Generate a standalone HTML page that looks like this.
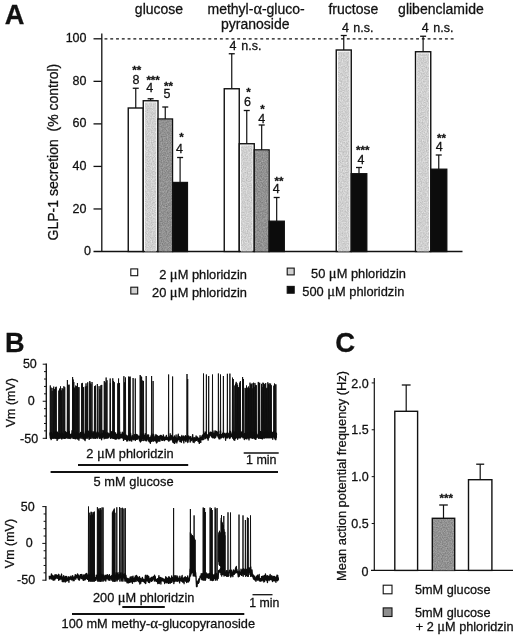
<!DOCTYPE html>
<html><head><meta charset="utf-8"><title>Figure</title>
<style>html,body{margin:0;padding:0;background:#fff}svg{display:block}text{font-family:'Liberation Sans', Arial, sans-serif;fill:#111;stroke:#111;stroke-width:0.28px}</style>
</head><body>
<svg width="520" height="636" viewBox="0 0 520 636">
<defs>
<filter id="nl" x="0" y="0" width="100%" height="100%" color-interpolation-filters="sRGB"><feTurbulence type="fractalNoise" baseFrequency="0.8" numOctaves="2" seed="4"/><feColorMatrix type="matrix" values="0.26 0 0 0 0.685  0.26 0 0 0 0.685  0.26 0 0 0 0.685  0 0 0 0 1"/><feComposite in2="SourceGraphic" operator="in"/></filter>
<filter id="nm" x="0" y="0" width="100%" height="100%" color-interpolation-filters="sRGB"><feTurbulence type="fractalNoise" baseFrequency="0.8" numOctaves="2" seed="9"/><feColorMatrix type="matrix" values="0.3 0 0 0 0.42  0.3 0 0 0 0.42  0.3 0 0 0 0.42  0 0 0 0 1"/><feComposite in2="SourceGraphic" operator="in"/></filter>
</defs>
<rect width="520" height="636" fill="#fff"/>
<text x="4.80" y="23.80" font-size="27.2" text-anchor="start" font-weight="bold" >A</text>
<text x="159.00" y="13.90" font-size="14" text-anchor="middle" font-weight="normal" >glucose</text>
<text x="256.10" y="13.70" font-size="14" text-anchor="middle" font-weight="normal" >methyl-<tspan font-family="'Liberation Serif', serif" font-size="116%">α</tspan>-gluco-</text>
<text x="255.30" y="29.40" font-size="14" text-anchor="middle" font-weight="normal" >pyranoside</text>
<text x="353.40" y="14.30" font-size="14" text-anchor="middle" font-weight="normal" >fructose</text>
<text x="440.90" y="14.30" font-size="14" text-anchor="middle" font-weight="normal" >glibenclamide</text>
<line x1="101.80" y1="33.50" x2="101.80" y2="252.00" stroke="#111" stroke-width="1.3" />
<line x1="93.50" y1="251.50" x2="462.50" y2="251.50" stroke="#111" stroke-width="1.3" />
<line x1="93.50" y1="208.96" x2="101.80" y2="208.96" stroke="#111" stroke-width="1.3" />
<text x="86.50" y="212.56" font-size="12.5" text-anchor="end" font-weight="normal" >20</text>
<line x1="93.50" y1="166.42" x2="101.80" y2="166.42" stroke="#111" stroke-width="1.3" />
<text x="86.50" y="170.02" font-size="12.5" text-anchor="end" font-weight="normal" >40</text>
<line x1="93.50" y1="123.88" x2="101.80" y2="123.88" stroke="#111" stroke-width="1.3" />
<text x="86.50" y="127.48" font-size="12.5" text-anchor="end" font-weight="normal" >60</text>
<line x1="93.50" y1="81.34" x2="101.80" y2="81.34" stroke="#111" stroke-width="1.3" />
<text x="86.50" y="84.94" font-size="12.5" text-anchor="end" font-weight="normal" >80</text>
<line x1="93.50" y1="38.80" x2="101.80" y2="38.80" stroke="#111" stroke-width="1.3" />
<text x="86.50" y="42.40" font-size="12.5" text-anchor="end" font-weight="normal" >100</text>
<text x="91.00" y="255.30" font-size="12.5" text-anchor="end" font-weight="normal" >0</text>
<line x1="104.50" y1="38.80" x2="456.00" y2="38.80" stroke="#111" stroke-width="1.3" stroke-dasharray="2.9 2.87"/>
<text transform="translate(57.6,240.4) rotate(-90)" font-size="14" xml:space="preserve">GLP-1 secretion  (% control)</text>
<line x1="135.75" y1="88.25" x2="135.75" y2="108.00" stroke="#111" stroke-width="1.2" />
<line x1="132.75" y1="88.25" x2="138.75" y2="88.25" stroke="#111" stroke-width="1.3" />
<rect x="128.25" y="108.00" width="15.00" height="143.50" fill="#ffffff" stroke="#111" stroke-width="1.4"/>
<line x1="150.62" y1="98.75" x2="150.62" y2="100.75" stroke="#111" stroke-width="1.2" />
<line x1="147.62" y1="98.75" x2="153.62" y2="98.75" stroke="#111" stroke-width="1.3" />
<rect x="143.25" y="100.75" width="14.75" height="150.75" fill="#fff" stroke="#111" stroke-width="1.4"/>
<rect x="144.95" y="102.45" width="11.35" height="149.05" fill="#d0d0d0" filter="url(#nl)"/>
<line x1="165.25" y1="107.00" x2="165.25" y2="119.00" stroke="#111" stroke-width="1.2" />
<line x1="162.25" y1="107.00" x2="168.25" y2="107.00" stroke="#111" stroke-width="1.3" />
<rect x="158.00" y="119.00" width="14.50" height="132.50" fill="#8e8e8e" stroke="#111" stroke-width="1.4"/>
<rect x="158.70" y="119.70" width="13.10" height="131.80" fill="#8e8e8e" filter="url(#nm)"/>
<line x1="180.10" y1="157.50" x2="180.10" y2="182.50" stroke="#111" stroke-width="1.2" />
<line x1="177.10" y1="157.50" x2="183.10" y2="157.50" stroke="#111" stroke-width="1.3" />
<rect x="172.80" y="182.50" width="14.60" height="69.00" fill="#0c0c0c" stroke="#111" stroke-width="1.4"/>
<line x1="231.75" y1="53.75" x2="231.75" y2="88.75" stroke="#111" stroke-width="1.2" />
<line x1="228.75" y1="53.75" x2="234.75" y2="53.75" stroke="#111" stroke-width="1.3" />
<rect x="224.25" y="88.75" width="15.00" height="162.75" fill="#ffffff" stroke="#111" stroke-width="1.4"/>
<line x1="246.75" y1="110.50" x2="246.75" y2="143.75" stroke="#111" stroke-width="1.2" />
<line x1="243.75" y1="110.50" x2="249.75" y2="110.50" stroke="#111" stroke-width="1.3" />
<rect x="239.25" y="143.75" width="15.00" height="107.75" fill="#fff" stroke="#111" stroke-width="1.4"/>
<rect x="240.95" y="145.45" width="11.60" height="106.05" fill="#d0d0d0" filter="url(#nl)"/>
<line x1="261.68" y1="125.00" x2="261.68" y2="149.90" stroke="#111" stroke-width="1.2" />
<line x1="258.68" y1="125.00" x2="264.68" y2="125.00" stroke="#111" stroke-width="1.3" />
<rect x="254.25" y="149.90" width="14.85" height="101.60" fill="#8e8e8e" stroke="#111" stroke-width="1.4"/>
<rect x="254.95" y="150.60" width="13.45" height="100.90" fill="#8e8e8e" filter="url(#nm)"/>
<line x1="276.68" y1="197.50" x2="276.68" y2="221.25" stroke="#111" stroke-width="1.2" />
<line x1="273.68" y1="197.50" x2="279.68" y2="197.50" stroke="#111" stroke-width="1.3" />
<rect x="269.10" y="221.25" width="15.15" height="30.25" fill="#0c0c0c" stroke="#111" stroke-width="1.4"/>
<line x1="343.75" y1="35.50" x2="343.75" y2="50.00" stroke="#111" stroke-width="1.2" />
<line x1="340.75" y1="35.50" x2="346.75" y2="35.50" stroke="#111" stroke-width="1.3" />
<rect x="336.25" y="50.00" width="15.00" height="201.50" fill="#fff" stroke="#111" stroke-width="1.4"/>
<rect x="337.95" y="51.70" width="11.60" height="199.80" fill="#d0d0d0" filter="url(#nl)"/>
<line x1="359.00" y1="167.50" x2="359.00" y2="173.75" stroke="#111" stroke-width="1.2" />
<line x1="356.00" y1="167.50" x2="362.00" y2="167.50" stroke="#111" stroke-width="1.3" />
<rect x="351.25" y="173.75" width="15.50" height="77.75" fill="#0c0c0c" stroke="#111" stroke-width="1.4"/>
<line x1="423.12" y1="36.25" x2="423.12" y2="51.75" stroke="#111" stroke-width="1.2" />
<line x1="420.12" y1="36.25" x2="426.12" y2="36.25" stroke="#111" stroke-width="1.3" />
<rect x="415.50" y="51.75" width="15.25" height="199.75" fill="#fff" stroke="#111" stroke-width="1.4"/>
<rect x="417.20" y="53.45" width="11.85" height="198.05" fill="#d0d0d0" filter="url(#nl)"/>
<line x1="438.75" y1="155.00" x2="438.75" y2="169.25" stroke="#111" stroke-width="1.2" />
<line x1="435.75" y1="155.00" x2="441.75" y2="155.00" stroke="#111" stroke-width="1.3" />
<rect x="430.75" y="169.25" width="16.00" height="82.25" fill="#0c0c0c" stroke="#111" stroke-width="1.4"/>
<text x="135.90" y="83.80" font-size="12.5" text-anchor="middle" font-weight="normal" >8</text>
<text x="136.70" y="74.10" font-size="11.5" text-anchor="middle" font-weight="bold" >**</text>
<text x="149.80" y="91.90" font-size="12.5" text-anchor="middle" font-weight="normal" >4</text>
<text x="153.10" y="83.80" font-size="11.5" text-anchor="middle" font-weight="bold" >***</text>
<text x="166.90" y="97.80" font-size="12.5" text-anchor="middle" font-weight="normal" >5</text>
<text x="168.50" y="89.80" font-size="11.5" text-anchor="middle" font-weight="bold" >**</text>
<text x="179.50" y="153.00" font-size="12.5" text-anchor="middle" font-weight="normal" >4</text>
<text x="181.50" y="140.50" font-size="11.5" text-anchor="middle" font-weight="bold" >*</text>
<text x="229.50" y="50.40" font-size="12.5" text-anchor="start" font-weight="normal" word-spacing="1.4">4 n.s.</text>
<text x="247.50" y="105.80" font-size="12.5" text-anchor="middle" font-weight="normal" >6</text>
<text x="248.40" y="95.60" font-size="11.5" text-anchor="middle" font-weight="bold" >*</text>
<text x="261.75" y="122.50" font-size="12.5" text-anchor="middle" font-weight="normal" >4</text>
<text x="262.60" y="112.50" font-size="11.5" text-anchor="middle" font-weight="bold" >*</text>
<text x="276.20" y="193.40" font-size="12.5" text-anchor="middle" font-weight="normal" >4</text>
<text x="278.90" y="184.50" font-size="11.5" text-anchor="middle" font-weight="bold" >**</text>
<text x="341.90" y="31.50" font-size="12.5" text-anchor="start" font-weight="normal" word-spacing="1.0">4 n.s.</text>
<text x="360.90" y="163.70" font-size="12.5" text-anchor="middle" font-weight="normal" >4</text>
<text x="362.80" y="154.00" font-size="11.5" text-anchor="middle" font-weight="bold" >***</text>
<text x="421.80" y="31.50" font-size="12.5" text-anchor="start" font-weight="normal" word-spacing="1.0">4 n.s.</text>
<text x="439.20" y="150.60" font-size="12.5" text-anchor="middle" font-weight="normal" >4</text>
<text x="441.50" y="141.70" font-size="11.5" text-anchor="middle" font-weight="bold" >**</text>
<rect x="130.80" y="268.90" width="6.9" height="6.8" fill="#ffffff" stroke="#111" stroke-width="1.1"/>
<rect x="130.80" y="287.20" width="6.9" height="6.8" fill="#d0d0d0" stroke="#111" stroke-width="1.1"/>
<rect x="287.20" y="268.10" width="7.0" height="6.8" fill="#d0d0d0" stroke="#111" stroke-width="1.1"/>
<rect x="287.20" y="286.40" width="7.0" height="6.8" fill="#0c0c0c" stroke="#111" stroke-width="1.1"/>
<text x="246.90" y="278.70" font-size="12.85" text-anchor="end" font-weight="normal" >2 <tspan font-family="'Liberation Serif', serif" font-size="14.5">μ</tspan>M phloridzin</text>
<text x="246.90" y="297.10" font-size="12.85" text-anchor="end" font-weight="normal" >20 <tspan font-family="'Liberation Serif', serif" font-size="14.5">μ</tspan>M phloridzin</text>
<text x="405.90" y="277.80" font-size="12.85" text-anchor="end" font-weight="normal" >50 <tspan font-family="'Liberation Serif', serif" font-size="14.5">μ</tspan>M phloridzin</text>
<text x="404.30" y="296.30" font-size="12.85" text-anchor="end" font-weight="normal" >500 <tspan font-family="'Liberation Serif', serif" font-size="14.5">μ</tspan>M phloridzin</text>
<text x="5.00" y="352.40" font-size="27.1" text-anchor="start" font-weight="bold" >B</text>
<line x1="46.30" y1="363.60" x2="46.30" y2="438.90" stroke="#111" stroke-width="1.35" />
<line x1="42.70" y1="364.20" x2="46.30" y2="364.20" stroke="#111" stroke-width="1.0" />
<line x1="44.00" y1="371.61" x2="46.30" y2="371.61" stroke="#111" stroke-width="1.0" />
<line x1="44.00" y1="379.02" x2="46.30" y2="379.02" stroke="#111" stroke-width="1.0" />
<line x1="44.00" y1="386.43" x2="46.30" y2="386.43" stroke="#111" stroke-width="1.0" />
<line x1="44.00" y1="393.84" x2="46.30" y2="393.84" stroke="#111" stroke-width="1.0" />
<line x1="42.70" y1="401.25" x2="46.30" y2="401.25" stroke="#111" stroke-width="1.0" />
<line x1="44.00" y1="408.66" x2="46.30" y2="408.66" stroke="#111" stroke-width="1.0" />
<line x1="44.00" y1="416.07" x2="46.30" y2="416.07" stroke="#111" stroke-width="1.0" />
<line x1="44.00" y1="423.48" x2="46.30" y2="423.48" stroke="#111" stroke-width="1.0" />
<line x1="44.00" y1="430.89" x2="46.30" y2="430.89" stroke="#111" stroke-width="1.0" />
<line x1="42.70" y1="438.30" x2="46.30" y2="438.30" stroke="#111" stroke-width="1.0" />
<text x="36.80" y="368.10" font-size="12.5" text-anchor="end" font-weight="normal" >50</text>
<text x="34.70" y="404.95" font-size="12.5" text-anchor="end" font-weight="normal" >0</text>
<text x="38.20" y="442.50" font-size="12.5" text-anchor="end" font-weight="normal" >-50</text>
<text transform="translate(15.2,427.30) rotate(-90)" font-size="12.5">Vm (mV)</text>
<line x1="45.90" y1="506.00" x2="45.90" y2="580.80" stroke="#111" stroke-width="1.35" />
<line x1="42.30" y1="506.60" x2="45.90" y2="506.60" stroke="#111" stroke-width="1.0" />
<line x1="43.60" y1="513.96" x2="45.90" y2="513.96" stroke="#111" stroke-width="1.0" />
<line x1="43.60" y1="521.32" x2="45.90" y2="521.32" stroke="#111" stroke-width="1.0" />
<line x1="43.60" y1="528.68" x2="45.90" y2="528.68" stroke="#111" stroke-width="1.0" />
<line x1="43.60" y1="536.04" x2="45.90" y2="536.04" stroke="#111" stroke-width="1.0" />
<line x1="42.30" y1="543.40" x2="45.90" y2="543.40" stroke="#111" stroke-width="1.0" />
<line x1="43.60" y1="550.76" x2="45.90" y2="550.76" stroke="#111" stroke-width="1.0" />
<line x1="43.60" y1="558.12" x2="45.90" y2="558.12" stroke="#111" stroke-width="1.0" />
<line x1="43.60" y1="565.48" x2="45.90" y2="565.48" stroke="#111" stroke-width="1.0" />
<line x1="43.60" y1="572.84" x2="45.90" y2="572.84" stroke="#111" stroke-width="1.0" />
<line x1="42.30" y1="580.20" x2="45.90" y2="580.20" stroke="#111" stroke-width="1.0" />
<text x="34.70" y="510.50" font-size="12.5" text-anchor="end" font-weight="normal" >50</text>
<text x="32.70" y="547.10" font-size="12.5" text-anchor="end" font-weight="normal" >0</text>
<text x="35.20" y="584.40" font-size="12.5" text-anchor="end" font-weight="normal" >-50</text>
<text transform="translate(14.3,568.20) rotate(-90)" font-size="12.5">Vm (mV)</text>
<path d="M50.10,432.50 L50.28,437.26 L50.46,438.18 L50.64,437.95 L50.82,433.98 L51.00,436.86 L51.18,439.60 L51.36,432.76 L51.54,436.88 L51.72,438.16 L51.90,434.77 L52.08,437.53 L52.26,433.91 L52.44,434.29 L52.62,434.26 L52.80,436.30 L52.98,435.91 L53.16,437.95 L53.34,434.14 L53.52,435.80 L53.70,437.68 L53.88,436.70 L54.06,432.54 L54.24,436.41 L54.42,434.09 L54.60,436.00 L54.78,436.03 L54.96,437.73 L55.14,435.30 L55.32,431.31 L55.50,432.52 L55.68,436.93 L55.86,435.15 L56.04,438.14 L56.22,436.33 L56.40,434.08 L56.58,438.14 L56.76,434.36 L56.94,431.75 L57.12,440.39 L57.30,432.47 L57.48,437.78 L57.66,438.38 L57.84,436.73 L58.02,433.31 L58.20,438.80 L58.38,433.69 L58.56,433.86 L58.74,435.74 L58.92,438.04 L59.10,437.03 L59.28,437.81 L59.46,434.86 L59.64,435.29 L59.82,433.39 L60.00,435.09 L60.18,436.67 L60.36,434.99 L60.54,436.81 L60.72,434.76 L60.90,434.53 L61.08,435.71 L61.26,435.09 L61.44,436.52 L61.62,435.96 L61.80,439.03 L61.98,434.97 L62.16,434.97 L62.34,433.29 L62.52,435.59 L62.70,436.71 L62.88,433.72 L63.06,435.33 L63.24,437.07 L63.42,435.36 L63.60,434.65 L63.78,437.69 L63.96,436.06 L64.14,436.85 L64.32,438.39 L64.50,438.40 L64.68,435.09 L64.86,434.62 L65.04,436.36 L65.22,435.57 L65.40,431.74 L65.58,438.16 L65.76,435.57 L65.94,437.11 L66.12,433.06 L66.30,437.92 L66.48,434.01 L66.66,434.98 L66.84,432.32 L67.02,434.75 L67.20,434.62 L67.38,434.67 L67.56,435.83 L67.74,435.11 L67.92,437.07 L68.10,433.84 L68.28,432.80 L68.46,434.51 L68.64,435.96 L68.82,437.35 L69.00,436.40 L69.18,431.38 L69.36,435.92 L69.54,438.09 L69.72,435.41 L69.90,434.14 L70.08,435.90 L70.26,434.35 L70.44,436.79 L70.62,435.50 L70.80,438.47 L70.98,436.46 L71.16,434.18 L71.34,436.82 L71.52,437.19 L71.70,434.03 L71.88,434.27 L72.06,430.75 L72.24,437.10 L72.42,434.19 L72.60,431.00 L72.78,431.84 L72.96,434.83 L73.14,436.95 L73.32,435.27 L73.50,436.47 L73.68,433.38 L73.86,432.87 L74.04,437.56 L74.22,436.91 L74.40,435.43 L74.58,438.02 L74.76,433.37 L74.94,434.24 L75.12,437.29 L75.30,438.87 L75.48,435.04 L75.66,438.34 L75.84,433.93 L76.02,435.94 L76.20,434.85 L76.38,432.02 L76.56,436.21 L76.74,437.65 L76.92,435.64 L77.10,435.83 L77.28,438.98 L77.46,433.54 L77.64,433.03 L77.82,435.02 L78.00,433.58 L78.18,438.80 L78.36,436.81 L78.54,434.23 L78.72,434.72 L78.90,440.15 L79.08,434.18 L79.26,433.97 L79.44,436.00 L79.62,437.16 L79.80,436.30 L79.98,433.87 L80.16,433.43 L80.34,437.10 L80.52,435.76 L80.70,432.39 L80.88,438.20 L81.06,437.58 L81.24,435.73 L81.42,435.59 L81.60,436.37 L81.78,434.13 L81.96,432.54 L82.14,436.02 L82.32,432.46 L82.50,436.11 L82.68,432.32 L82.86,435.23 L83.04,435.09 L83.22,438.97 L83.40,433.05 L83.58,432.90 L83.76,434.78 L83.94,433.81 L84.12,435.15 L84.30,437.09 L84.48,437.80 L84.66,439.57 L84.84,434.73 L85.02,440.56 L85.20,439.84 L85.38,435.35 L85.56,431.39 L85.74,435.62 L85.92,435.93 L86.10,431.14 L86.28,435.68 L86.46,435.09 L86.64,433.84 L86.82,436.66 L87.00,437.13 L87.18,434.24 L87.36,436.00 L87.54,434.23 L87.72,433.92 L87.90,435.65 L88.08,436.45 L88.26,434.30 L88.44,431.12 L88.62,436.69 L88.80,432.34 L88.98,435.87 L89.16,439.35 L89.34,435.64 L89.52,433.41 L89.70,432.79 L89.88,438.24 L90.06,435.62 L90.24,436.59 L90.42,437.53 L90.60,435.34 L90.78,434.83 L90.96,433.34 L91.14,430.83 L91.32,432.34 L91.50,435.21 L91.68,434.97 L91.86,436.27 L92.04,434.99 L92.22,435.43 L92.40,436.91 L92.58,433.14 L92.76,434.21 L92.94,431.58 L93.12,437.02 L93.30,435.21 L93.48,436.07 L93.66,438.28 L93.84,436.91 L94.02,434.52 L94.20,436.13 L94.38,431.78 L94.56,435.57 L94.74,435.19 L94.92,431.90 L95.10,438.08 L95.28,433.86 L95.46,436.72 L95.64,434.39 L95.82,437.15 L96.00,438.09 L96.18,433.92 L96.36,432.81 L96.54,435.55 L96.72,437.62 L96.90,435.09 L97.08,434.59 L97.26,436.74 L97.44,431.27 L97.62,434.56 L97.80,433.24 L97.98,437.01 L98.16,434.77 L98.34,433.75 L98.52,435.18 L98.70,432.99 L98.88,435.87 L99.06,434.67 L99.24,435.19 L99.42,434.72 L99.60,438.15 L99.78,435.70 L99.96,436.97 L100.14,436.68 L100.32,434.26 L100.50,437.09 L100.68,436.68 L100.86,436.61 L101.04,434.86 L101.22,434.46 L101.40,437.02 L101.58,439.70 L101.76,433.55 L101.94,436.50 L102.12,434.44 L102.30,436.86 L102.48,435.95 L102.66,437.25 L102.84,430.54 L103.02,433.74 L103.20,433.10 L103.38,434.99 L103.56,433.46 L103.74,433.89 L103.92,436.36 L104.10,438.73 L104.28,430.40 L104.46,434.11 L104.64,435.42 L104.82,434.89 L105.00,434.25 L105.18,432.18 L105.36,433.12 L105.54,436.65 L105.72,437.77 L105.90,435.51 L106.08,433.76 L106.26,435.53 L106.44,435.03 L106.62,436.75 L106.80,436.07 L106.98,434.17 L107.16,435.81 L107.34,432.96 L107.52,437.12 L107.70,437.80 L107.88,432.85 L108.06,436.21 L108.24,433.29 L108.42,437.71 L108.60,437.28 L108.78,434.88 L108.96,437.24 L109.14,434.56 L109.32,433.89 L109.50,434.21 L109.68,434.87 L109.86,434.55 L110.04,435.35 L110.22,433.66 L110.40,436.37 L110.58,436.92 L110.76,433.74 L110.94,431.73 L111.12,436.16 L111.30,437.25 L111.48,434.85 L111.66,432.41 L111.84,435.67 L112.02,438.24 L112.20,431.50 L112.38,436.29 L112.56,434.90 L112.74,433.80 L112.92,436.72 L113.10,433.15 L113.28,436.34 L113.46,438.30 L113.64,435.99 L113.82,433.88 L114.00,432.05 L114.18,433.00 L114.36,431.82 L114.54,438.73 L114.72,434.98 L114.90,433.41 L115.08,432.87 L115.26,433.33 L115.44,434.99 L115.62,433.01 L115.80,439.25 L115.98,434.31 L116.16,434.20 L116.34,436.61 L116.52,438.90 L116.70,438.81 L116.88,434.97 L117.06,436.45 L117.24,436.27 L117.42,437.24 L117.60,436.65 L117.78,434.15 L117.96,433.14 L118.14,435.96 L118.32,433.40 L118.50,438.64 L118.68,436.22 L118.86,433.96 L119.04,435.45 L119.22,435.07 L119.40,435.78 L119.58,437.92 L119.76,432.96 L119.94,432.17 L120.12,436.77 L120.30,435.87 L120.48,436.66 L120.66,437.34 L120.84,435.81 L121.02,437.86 L121.20,434.37 L121.38,436.27 L121.56,434.62 L121.74,433.91 L121.92,437.54 L122.10,437.33 L122.28,432.24 L122.46,433.91 L122.64,436.87 L122.82,438.21 L123.00,434.77 L123.18,435.66 L123.36,433.05 L123.54,440.41 L123.72,436.76 L123.90,437.78 L124.08,437.37 L124.26,437.92 L124.44,437.37 L124.62,435.30 L124.80,437.56 L124.98,436.33 L125.16,438.81 L125.34,434.89 L125.52,435.43 L125.70,438.00 L125.88,439.26 L126.06,436.99 L126.24,435.21 L126.42,436.71 L126.60,435.88 L126.78,441.00 L126.96,438.67 L127.14,439.81 L127.32,437.75 L127.50,435.98 L127.68,439.65 L127.86,440.79 L128.04,438.60 L128.22,437.09 L128.40,439.17 L128.58,436.02 L128.76,438.27 L128.94,435.17 L129.12,434.86 L129.30,437.73 L129.48,437.29 L129.66,440.62 L129.84,436.16 L130.02,436.81 L130.20,434.52 L130.38,433.15 L130.56,433.59 L130.74,438.48 L130.92,435.17 L131.10,440.14 L131.28,440.84 L131.46,437.21 L131.64,441.09 L131.82,438.04 L132.00,439.75 L132.18,436.90 L132.36,439.16 L132.54,435.65 L132.72,439.05 L132.90,436.60 L133.08,437.13 L133.26,438.46 L133.44,437.38 L133.62,437.08 L133.80,438.99 L133.98,439.21 L134.16,434.56 L134.34,438.55 L134.52,439.08 L134.70,435.87 L134.88,437.97 L135.06,434.59 L135.24,440.45 L135.42,436.92 L135.60,437.25 L135.78,439.55 L135.96,436.90 L136.14,438.35 L136.32,435.28 L136.50,436.13 L136.68,434.41 L136.86,436.86 L137.04,439.44 L137.22,437.68 L137.40,438.89 L137.58,435.10 L137.76,435.32 L137.94,436.18 L138.12,438.08 L138.30,437.56 L138.48,436.77 L138.66,438.13 L138.84,436.52 L139.02,437.12 L139.20,439.81 L139.38,436.09 L139.56,437.93 L139.74,440.89 L139.92,437.78 L140.10,439.31 L140.28,436.84 L140.46,441.95 L140.64,433.48 L140.82,435.63 L141.00,435.74 L141.18,441.07 L141.36,438.41 L141.54,437.22 L141.72,435.01 L141.90,438.36 L142.08,438.02 L142.26,436.20 L142.44,434.44 L142.62,435.46 L142.80,438.08 L142.98,438.42 L143.16,438.08 L143.34,437.35 L143.52,433.98 L143.70,437.91 L143.88,435.70 L144.06,437.86 L144.24,438.72 L144.42,436.39 L144.60,435.67 L144.78,440.04 L144.96,438.96 L145.14,436.85 L145.32,433.79 L145.50,438.28 L145.68,439.79 L145.86,440.52 L146.04,436.89 L146.22,437.13 L146.40,437.53 L146.58,440.17 L146.76,436.12 L146.94,438.15 L147.12,436.31 L147.30,438.78 L147.48,435.03 L147.66,439.04 L147.84,437.44 L148.02,438.19 L148.20,439.77 L148.38,440.92 L148.56,435.00 L148.74,440.66 L148.92,439.84 L149.10,438.36 L149.28,441.76 L149.46,439.41 L149.64,441.70 L149.82,438.10 L150.00,437.43 L150.18,441.52 L150.36,443.28 L150.54,440.13 L150.72,440.62 L150.90,437.67 L151.08,435.73 L151.26,437.62 L151.44,441.29 L151.62,434.36 L151.80,437.11 L151.98,433.92 L152.16,438.16 L152.34,439.85 L152.52,435.52 L152.70,437.29 L152.88,440.82 L153.06,437.93 L153.24,435.70 L153.42,435.71 L153.60,434.46 L153.78,440.36 L153.96,437.21 L154.14,440.87 L154.32,440.36 L154.50,437.11 L154.68,437.63 L154.86,440.25 L155.04,439.17 L155.22,439.50 L155.40,435.68 L155.58,441.06 L155.76,437.47 L155.94,434.55 L156.12,437.54 L156.30,439.49 L156.48,442.90 L156.66,437.69 L156.84,435.47 L157.02,442.59 L157.20,438.39 L157.38,437.63 L157.56,436.07 L157.74,436.03 L157.92,440.95 L158.10,437.21 L158.28,436.84 L158.46,437.01 L158.64,441.17 L158.82,436.71 L159.00,439.57 L159.18,438.69 L159.36,438.61 L159.54,436.24 L159.72,439.20 L159.90,441.20 L160.08,437.78 L160.26,436.09 L160.44,435.39 L160.62,438.53 L160.80,437.54 L160.98,438.29 L161.16,438.30 L161.34,435.55 L161.52,440.15 L161.70,438.89 L161.88,438.16 L162.06,438.67 L162.24,440.20 L162.42,438.33 L162.60,436.41 L162.78,440.40 L162.96,437.35 L163.14,436.59 L163.32,434.86 L163.50,438.22 L163.68,436.22 L163.86,437.57 L164.04,439.46 L164.22,438.68 L164.40,440.58 L164.58,439.33 L164.76,437.82 L164.94,438.00 L165.12,437.22 L165.30,439.49 L165.48,438.17 L165.66,437.00 L165.84,439.67 L166.02,438.27 L166.20,437.34 L166.38,435.33 L166.56,439.38 L166.74,439.04 L166.92,438.77 L167.10,437.84 L167.28,437.35 L167.46,438.69 L167.64,439.94 L167.82,439.33 L168.00,439.38 L168.18,438.32 L168.36,439.94 L168.54,439.65 L168.72,437.63 L168.90,440.48 L169.08,440.26 L169.26,440.10 L169.44,438.16 L169.62,438.26 L169.80,436.10 L169.98,439.79 L170.16,433.73 L170.34,437.42 L170.52,437.51 L170.70,439.86 L170.88,437.90 L171.06,436.03 L171.24,435.38 L171.42,437.09 L171.60,438.98 L171.78,438.48 L171.96,438.06 L172.14,437.22 L172.32,438.17 L172.50,440.82 L172.68,436.50 L172.86,438.90 L173.04,442.37 L173.22,440.33 L173.40,438.28 L173.58,440.68 L173.76,437.71 L173.94,439.34 L174.12,442.67 L174.30,443.36 L174.48,436.01 L174.66,440.71 L174.84,443.03 L175.02,437.81 L175.20,439.39 L175.38,441.94 L175.56,437.76 L175.74,439.63 L175.92,438.64 L176.10,434.99 L176.28,439.36 L176.46,438.29 L176.64,440.50 L176.82,442.87 L177.00,440.40 L177.18,438.20 L177.36,439.85 L177.54,439.31 L177.72,440.74 L177.90,435.70 L178.08,436.10 L178.26,434.22 L178.44,439.61 L178.62,438.14 L178.80,436.92 L178.98,436.85 L179.16,437.12 L179.34,436.59 L179.52,437.64 L179.70,437.39 L179.88,441.59 L180.06,439.41 L180.24,437.17 L180.42,437.54 L180.60,441.29 L180.78,439.90 L180.96,439.88 L181.14,440.72 L181.32,442.24 L181.50,436.41 L181.68,437.74 L181.86,435.51 L182.04,439.71 L182.22,438.00 L182.40,437.39 L182.58,437.23 L182.76,440.22 L182.94,438.45 L183.12,437.19 L183.30,440.98 L183.48,436.34 L183.66,435.99 L183.84,442.87 L184.02,437.83 L184.20,437.76 L184.38,436.98 L184.56,438.23 L184.74,440.11 L184.92,440.07 L185.10,439.76 L185.28,438.38 L185.46,435.75 L185.64,439.20 L185.82,441.63 L186.00,440.77 L186.18,438.10 L186.36,440.02 L186.54,438.00 L186.72,438.58 L186.90,436.34 L187.08,438.14 L187.26,438.89 L187.44,437.98 L187.62,439.90 L187.80,442.46 L187.98,441.25 L188.16,437.70 L188.34,436.75 L188.52,436.90 L188.70,435.96 L188.88,437.98 L189.06,438.87 L189.24,438.40 L189.42,438.49 L189.60,438.53 L189.78,438.15 L189.96,436.94 L190.14,442.07 L190.32,440.69 L190.50,436.61 L190.68,436.64 L190.86,437.38 L191.04,438.53 L191.22,440.66 L191.40,440.13 L191.58,440.07 L191.76,439.92 L191.94,439.76 L192.12,439.00 L192.30,438.47 L192.48,437.57 L192.66,434.62 L192.84,438.07 L193.02,442.00 L193.20,437.64 L193.38,437.82 L193.56,441.29 L193.74,439.54 L193.92,438.64 L194.10,442.57 L194.28,440.56 L194.46,440.51 L194.64,437.64 L194.82,439.75 L195.00,439.40 L195.18,440.44 L195.36,440.96 L195.54,440.73 L195.72,438.63 L195.90,439.85 L196.08,436.04 L196.26,440.09 L196.44,440.39 L196.62,438.53 L196.80,437.66 L196.98,439.07 L197.16,436.87 L197.34,439.94 L197.52,439.88 L197.70,437.43 L197.88,439.66 L198.06,441.38 L198.24,441.55 L198.42,441.40 L198.60,438.89 L198.78,438.40 L198.96,438.45 L199.14,440.47 L199.32,443.38 L199.50,441.82 L199.68,442.16 L199.86,441.74 L200.04,435.60 L200.22,438.77 L200.40,438.13 L200.58,441.56 L200.76,442.42 L200.94,437.73 L201.12,438.98 L201.30,439.70 L201.48,437.55 L201.66,436.89 L201.84,436.57 L202.02,439.51 L202.20,435.45 L202.38,439.39 L202.56,437.20 L202.74,438.30 L202.92,439.79 L203.10,434.93 L203.28,434.47 L203.46,437.00 L203.64,434.15 L203.82,434.86 L204.00,435.89 L204.18,436.33 L204.36,433.64 L204.54,435.50 L204.72,437.13 L204.90,438.61 L205.08,431.98 L205.26,438.57 L205.44,437.74 L205.62,433.55 L205.80,432.31 L205.98,435.94 L206.16,434.53 L206.34,435.74 L206.52,437.01 L206.70,434.36 L206.88,435.49 L207.06,435.90 L207.24,436.57 L207.42,438.63 L207.60,438.64 L207.78,435.70 L207.96,435.03 L208.14,440.14 L208.32,436.83 L208.50,436.27 L208.68,433.21 L208.86,437.12 L209.04,434.27 L209.22,435.05 L209.40,433.06 L209.58,434.64 L209.76,435.66 L209.94,432.32 L210.12,433.28 L210.30,434.72 L210.48,432.28 L210.66,432.34 L210.84,433.35 L211.02,432.14 L211.20,436.06 L211.38,432.81 L211.56,436.66 L211.74,437.03 L211.92,432.67 L212.10,435.32 L212.28,434.62 L212.46,433.48 L212.64,435.09 L212.82,435.05 L213.00,436.84 L213.18,437.64 L213.36,433.22 L213.54,434.70 L213.72,436.43 L213.90,437.67 L214.08,431.01 L214.26,438.01 L214.44,434.79 L214.62,438.13 L214.80,434.17 L214.98,433.40 L215.16,435.31 L215.34,437.49 L215.52,435.31 L215.70,431.00 L215.88,436.86 L216.06,432.17 L216.24,433.25 L216.42,433.01 L216.60,431.70 L216.78,432.90 L216.96,433.34 L217.14,434.42 L217.32,435.49 L217.50,434.76 L217.68,432.08 L217.86,434.56 L218.04,437.04 L218.22,437.04 L218.40,435.55 L218.58,436.51 L218.76,437.11 L218.94,437.91 L219.12,438.78 L219.30,434.59 L219.48,434.60 L219.66,438.29 L219.84,438.73 L220.02,438.71 L220.20,431.20 L220.38,434.96 L220.56,430.98 L220.74,436.83 L220.92,435.30 L221.10,435.38 L221.28,434.97 L221.46,437.75 L221.64,434.61 L221.82,437.35 L222.00,436.61 L222.18,436.23 L222.36,436.25 L222.54,435.70 L222.72,433.15 L222.90,436.97 L223.08,436.92 L223.26,435.16 L223.44,436.98 L223.62,437.48 L223.80,433.01 L223.98,435.33 L224.16,434.53 L224.34,433.48 L224.52,436.05 L224.70,433.79 L224.88,434.69 L225.06,436.26 L225.24,436.56 L225.42,436.61 L225.60,440.27 L225.78,434.80 L225.96,436.24 L226.14,433.11 L226.32,436.44 L226.50,437.90 L226.68,437.74 L226.86,433.63 L227.04,434.34 L227.22,437.35 L227.40,434.61 L227.58,436.56 L227.76,432.91 L227.94,437.74 L228.12,437.14 L228.30,436.01 L228.48,433.55 L228.66,434.96 L228.84,435.81 L229.02,436.18 L229.20,435.26 L229.38,435.08 L229.56,435.90 L229.74,438.51 L229.92,431.20 L230.10,432.19 L230.28,431.86 L230.46,433.92 L230.64,431.80 L230.82,436.53 L231.00,435.57 L231.18,434.87 L231.36,434.10 L231.54,435.72 L231.72,435.99 L231.90,436.18 L232.08,434.11 L232.26,437.08 L232.44,432.56 L232.62,438.04 L232.80,430.69 L232.98,433.90 L233.16,432.82 L233.34,436.94 L233.52,432.41 L233.70,439.46 L233.88,432.40 L234.06,439.95 L234.24,436.83 L234.42,436.08 L234.60,436.93 L234.78,440.31 L234.96,437.99 L235.14,431.51 L235.32,438.42 L235.50,436.50 L235.68,432.51 L235.86,437.15 L236.04,433.10 L236.22,435.85 L236.40,436.05 L236.58,434.19 L236.76,436.93 L236.94,433.37 L237.12,435.85 L237.30,434.24 L237.48,434.83 L237.66,439.23 L237.84,435.79 L238.02,433.25 L238.20,435.08 L238.38,433.81 L238.56,435.26 L238.74,435.57 L238.92,435.23 L239.10,435.58 L239.28,434.41 L239.46,436.44 L239.64,437.64 L239.82,433.94 L240.00,434.97 L240.18,435.03 L240.36,437.65 L240.54,437.22 L240.72,433.47 L240.90,435.15 L241.08,431.88 L241.26,432.67 L241.44,434.41 L241.62,435.92 L241.80,436.63 L241.98,434.03 L242.16,431.87 L242.34,435.62 L242.52,434.35 L242.70,435.57 L242.88,435.16 L243.06,436.53 L243.24,436.50 L243.42,437.08 L243.60,434.49 L243.78,437.35 L243.96,434.50 L244.14,435.89 L244.32,439.55 L244.50,436.48 L244.68,433.34 L244.86,438.84 L245.04,437.77 L245.22,437.68 L245.40,435.96 L245.58,436.09 L245.76,434.84 L245.94,434.01 L246.12,438.39 L246.30,434.49 L246.48,434.09 L246.66,434.30 L246.84,439.04 L247.02,437.15 L247.20,434.72 L247.38,435.50 L247.56,436.74 L247.74,437.67 L247.92,432.59 L248.10,437.83 L248.28,435.58 L248.46,434.69 L248.64,435.41 L248.82,437.89 L249.00,439.85 L249.18,436.25 L249.36,436.84 L249.54,434.07 L249.72,436.34 L249.90,436.77 L250.08,431.95 L250.26,433.80 L250.44,436.47 L250.62,431.02 L250.80,433.93 L250.98,435.83 L251.16,431.38 L251.34,434.29 L251.52,435.29 L251.70,436.94 L251.88,432.71 L252.06,437.86 L252.24,436.40 L252.42,438.20 L252.60,438.16 L252.78,436.58 L252.96,436.87 L253.14,432.29 L253.32,432.93 L253.50,433.63 L253.68,435.17 L253.86,437.91 L254.04,432.45 L254.22,435.36 L254.40,433.31 L254.58,432.84 L254.76,438.77 L254.94,435.81 L255.12,439.05 L255.30,438.12 L255.48,433.50 L255.66,431.47 L255.84,439.41 L256.02,434.06 L256.20,432.73 L256.38,436.64 L256.56,435.58 L256.74,433.89 L256.92,434.81 L257.10,436.08 L257.28,435.78 L257.46,437.10 L257.64,435.18 L257.82,435.23 L258.00,437.18 L258.18,436.61 L258.36,437.97 L258.54,435.09 L258.72,435.34 L258.90,433.22 L259.08,438.43 L259.26,432.51 L259.44,435.80 L259.62,433.49 L259.80,435.97 L259.98,436.68 L260.16,431.72 L260.34,434.88 L260.52,431.74 L260.70,438.44 L260.88,434.64 L261.06,432.16 L261.24,434.13 L261.42,437.87 L261.60,438.34 L261.78,438.08 L261.96,433.94 L262.14,435.34 L262.32,438.95 L262.50,433.98 L262.68,434.63 L262.86,433.07 L263.04,432.67 L263.22,437.50 L263.40,436.50 L263.58,436.28 L263.76,436.43 L263.94,437.23 L264.12,438.03 L264.30,434.95 L264.48,434.38 L264.66,432.96 L264.84,437.35 L265.02,434.06 L265.20,432.06 L265.38,434.65 L265.56,435.06 L265.74,436.96 L265.92,437.05 L266.10,433.51 L266.28,433.43 L266.46,434.25 L266.64,432.27 L266.82,434.51 L267.00,435.70 L267.18,434.90 L267.36,431.27 L267.54,432.26 L267.72,437.41 L267.90,432.58 L268.08,436.20 L268.26,435.94 L268.44,434.29 L268.62,433.20 L268.80,435.87 L268.98,433.56 L269.16,435.13 L269.34,435.74 L269.52,434.43 L269.70,435.29 L269.88,435.09 L270.06,433.16 L270.24,435.50 L270.42,434.61 L270.60,432.06 L270.78,434.86 L270.96,434.82 L271.14,434.33 L271.32,431.23 L271.50,436.77 L271.68,436.39 L271.86,436.40 L272.04,435.70 L272.22,432.72 L272.40,435.38 L272.58,433.30 L272.76,439.35 L272.94,433.71 L273.12,436.18 L273.30,431.56 L273.48,432.27 L273.66,433.90 L273.84,436.52 L274.02,436.31 L274.20,435.74 L274.38,431.18 L274.56,437.28 L274.74,433.11 L274.92,438.56 L275.10,439.18 L275.28,436.75 L275.46,437.02 L275.64,432.74 L275.82,439.70 L276.00,435.61 L276.18,437.09 L276.36,433.31 L276.54,434.87" fill="none" stroke="#0c0c0c" stroke-width="1.35" stroke-linejoin="round"/>
<path d="M50.10,435.60 L50.30,385.46 L50.50,438.60 L50.90,436.10 M51.03,435.60 L51.23,387.63 L51.43,438.60 L51.83,436.10 M51.95,435.60 L52.15,390.87 L52.35,438.60 L52.75,436.10 M52.81,435.60 L53.01,388.01 L53.21,438.60 L53.61,436.10 M53.53,435.60 L53.73,386.61 L53.93,438.60 L54.33,436.10 M54.38,435.60 L54.58,389.08 L54.78,438.60 L55.18,436.10 M55.33,435.60 L55.53,387.29 L55.73,438.60 L56.13,436.10 M56.05,435.60 L56.25,386.73 L56.45,438.60 L56.85,436.10 M58.62,435.60 L58.82,390.59 L59.02,438.60 L59.42,436.10 M59.33,435.60 L59.53,388.60 L59.73,438.60 L60.13,436.10 M60.31,435.60 L60.51,386.38 L60.71,438.60 L61.11,436.10 M61.17,435.60 L61.37,390.45 L61.57,438.60 L61.97,436.10 M61.91,435.60 L62.11,388.14 L62.31,438.60 L62.71,436.10 M62.84,435.60 L63.04,389.01 L63.24,438.60 L63.64,436.10 M63.68,435.60 L63.88,386.23 L64.08,438.60 L64.48,436.10 M64.53,435.60 L64.73,387.23 L64.93,438.60 L65.33,436.10 M68.06,435.60 L68.26,384.88 L68.46,438.60 L68.86,436.10 M68.93,435.60 L69.13,384.66 L69.33,438.60 L69.73,436.10 M73.12,435.60 L73.32,387.32 L73.52,438.60 L73.92,436.10 M73.95,435.60 L74.15,388.44 L74.35,438.60 L74.75,436.10 M74.70,435.60 L74.90,387.45 L75.10,438.60 L75.50,436.10 M75.53,435.60 L75.73,385.56 L75.93,438.60 L76.33,436.10 M76.42,435.60 L76.62,386.14 L76.82,438.60 L77.22,436.10 M77.24,435.60 L77.44,383.01 L77.64,438.60 L78.04,436.10 M77.97,435.60 L78.17,387.26 L78.37,438.60 L78.77,436.10 M78.83,435.60 L79.03,387.18 L79.23,438.60 L79.63,436.10 M81.43,435.60 L81.63,383.35 L81.83,438.60 L82.23,436.10 M82.31,435.60 L82.51,382.91 L82.71,438.60 L83.11,436.10 M83.30,435.60 L83.50,387.17 L83.70,438.60 L84.10,436.10 M85.10,435.60 L85.30,386.55 L85.50,438.60 L85.90,436.10 M85.84,435.60 L86.04,383.35 L86.24,438.60 L86.64,436.10 M86.68,435.60 L86.88,385.95 L87.08,438.60 L87.48,436.10 M87.52,435.60 L87.72,382.32 L87.92,438.60 L88.32,436.10 M89.91,435.60 L90.11,382.49 L90.31,438.60 L90.71,436.10 M90.74,435.60 L90.94,384.19 L91.14,438.60 L91.54,436.10 M94.30,435.60 L94.50,386.17 L94.70,438.60 L95.10,436.10 M95.27,435.60 L95.47,385.55 L95.67,438.60 L96.07,436.10 M98.87,435.60 L99.07,386.16 L99.27,438.60 L99.67,436.10 M99.71,435.60 L99.91,389.28 L100.11,438.60 L100.51,436.10 M100.62,435.60 L100.82,385.38 L101.02,438.60 L101.42,436.10 M101.52,435.60 L101.72,384.92 L101.92,438.60 L102.32,436.10 M104.10,435.60 L104.30,381.10 L104.50,438.60 L104.90,436.10 M105.02,435.60 L105.22,382.43 L105.42,438.60 L105.82,436.10 M105.95,435.60 L106.15,377.54 L106.35,438.60 L106.75,436.10 M106.77,435.60 L106.97,380.28 L107.17,438.60 L107.57,436.10 M110.18,435.60 L110.38,383.15 L110.58,438.60 L110.98,436.10 M112.59,435.66 L112.79,378.29 L112.99,438.66 L113.39,436.16 M113.36,435.72 L113.56,380.95 L113.76,438.72 L114.16,436.22 M114.11,435.78 L114.31,382.19 L114.51,438.78 L114.91,436.28 M117.57,436.06 L117.77,383.35 L117.97,439.06 L118.37,436.56 M118.35,436.12 L118.55,378.51 L118.75,439.12 L119.15,436.62 M119.32,436.19 L119.52,382.96 L119.72,439.19 L120.12,436.69 M124.43,436.60 L124.63,382.35 L124.83,439.60 L125.23,437.10 M125.29,436.67 L125.49,377.49 L125.69,439.67 L126.09,437.17 M128.44,436.91 L128.64,376.55 L128.84,439.91 L129.24,437.41 M129.25,436.98 L129.45,376.88 L129.65,439.98 L130.05,437.48 M130.00,437.04 L130.20,376.64 L130.40,440.04 L130.80,437.54 M97.15,435.60 L97.35,384.00 L97.55,438.60 L97.95,436.10 M67.20,435.60 L67.40,380.00 L67.60,438.60 L68.00,436.10 M72.40,435.60 L72.60,377.00 L72.80,438.60 L73.20,436.10 M73.00,435.60 L73.20,379.50 L73.40,438.60 L73.80,436.10 M73.60,435.60 L73.80,382.00 L74.00,438.60 L74.40,436.10 M89.60,435.60 L89.80,381.00 L90.00,438.60 L90.40,436.10 M91.80,435.60 L92.00,382.00 L92.20,438.60 L92.60,436.10 M123.70,436.54 L123.90,376.20 L124.10,439.54 L124.50,437.04 M110.00,435.60 L110.20,378.50 L110.40,438.60 L110.80,436.10 M132.90,437.27 L133.10,378.00 L133.30,440.27 L133.70,437.77 M135.10,437.44 L135.30,378.50 L135.50,440.44 L135.90,437.94 M140.00,437.83 L140.20,375.00 L140.40,440.83 L140.80,438.33 M140.70,437.88 L140.90,376.00 L141.10,440.88 L141.50,438.38 M141.40,437.94 L141.60,377.00 L141.80,440.94 L142.20,438.44 M142.50,438.02 L142.70,380.50 L142.90,441.02 L143.30,438.52 M143.30,438.09 L143.50,381.00 L143.70,441.09 L144.10,438.59 M146.00,438.30 L146.20,376.00 L146.40,441.30 L146.80,438.80 M151.40,438.60 L151.60,376.00 L151.80,441.60 L152.20,439.10 M152.90,438.60 L153.10,381.00 L153.30,441.60 L153.70,439.10 M168.40,438.60 L168.60,374.50 L168.80,441.60 L169.20,439.10 M172.40,438.60 L172.60,376.50 L172.80,441.60 L173.20,439.10 M186.80,438.60 L187.00,374.00 L187.20,441.60 L187.60,439.10 M187.50,438.60 L187.70,379.00 L187.90,441.60 L188.30,439.10 M203.30,436.90 L203.50,373.50 L203.70,439.90 L204.10,437.40 M206.20,435.20 L206.40,374.50 L206.60,438.20 L207.00,435.70 M208.50,435.20 L208.70,376.00 L208.90,438.20 L209.30,435.70 M212.30,435.20 L212.50,374.50 L212.70,438.20 L213.10,435.70 M218.20,435.20 L218.40,373.50 L218.60,438.20 L219.00,435.70 M220.30,435.20 L220.50,374.50 L220.70,438.20 L221.10,435.70 M223.20,435.20 L223.40,376.00 L223.60,438.20 L224.00,435.70 M227.20,435.20 L227.40,373.80 L227.60,438.20 L228.00,435.70 M229.70,435.20 L229.90,373.60 L230.10,438.20 L230.50,435.70 M232.30,435.20 L232.50,377.60 L232.70,438.20 L233.10,435.70 M233.10,435.20 L233.30,379.00 L233.50,438.20 L233.90,435.70 M242.40,435.20 L242.60,377.00 L242.80,438.20 L243.20,435.70 M243.30,435.20 L243.50,379.00 L243.70,438.20 L244.10,435.70 M234.60,435.20 L234.80,385.53 L235.00,438.20 L235.40,435.70 M235.30,435.20 L235.50,383.78 L235.70,438.20 L236.10,435.70 M236.00,435.20 L236.20,381.87 L236.40,438.20 L236.80,435.70 M236.70,435.20 L236.90,383.15 L237.10,438.20 L237.50,435.70 M237.40,435.20 L237.60,384.84 L237.80,438.20 L238.20,435.70 M238.10,435.20 L238.30,387.11 L238.50,438.20 L238.90,435.70 M238.80,435.20 L239.00,387.45 L239.20,438.20 L239.60,435.70 M239.50,435.20 L239.70,382.57 L239.90,438.20 L240.30,435.70 M240.20,435.20 L240.40,381.07 L240.60,438.20 L241.00,435.70 M244.90,435.20 L245.10,387.90 L245.30,438.20 L245.70,435.70 M245.60,435.20 L245.80,388.52 L246.00,438.20 L246.40,435.70 M246.30,435.20 L246.50,385.48 L246.70,438.20 L247.10,435.70 M247.00,435.20 L247.20,387.51 L247.40,438.20 L247.80,435.70 M247.70,435.20 L247.90,388.13 L248.10,438.20 L248.50,435.70 M248.40,435.20 L248.60,386.46 L248.80,438.20 L249.20,435.70 M249.10,435.20 L249.30,388.17 L249.50,438.20 L249.90,435.70 M249.80,435.20 L250.00,382.66 L250.20,438.20 L250.60,435.70 M250.50,435.20 L250.70,384.27 L250.90,438.20 L251.30,435.70 M251.20,435.20 L251.40,384.30 L251.60,438.20 L252.00,435.70 M251.90,435.20 L252.10,383.28 L252.30,438.20 L252.70,435.70 M252.60,435.20 L252.80,388.42 L253.00,438.20 L253.40,435.70 M253.30,435.20 L253.50,382.70 L253.70,438.20 L254.10,435.70 M254.00,435.20 L254.20,386.87 L254.40,438.20 L254.80,435.70 M254.70,435.20 L254.90,382.96 L255.10,438.20 L255.50,435.70 M255.40,435.20 L255.60,384.85 L255.80,438.20 L256.20,435.70 M256.10,435.20 L256.30,385.22 L256.50,438.20 L256.90,435.70 M258.10,435.20 L258.30,381.95 L258.50,438.20 L258.90,435.70 M258.80,435.20 L259.00,382.80 L259.20,438.20 L259.60,435.70 M259.50,435.20 L259.70,382.84 L259.90,438.20 L260.30,435.70 M261.30,435.20 L261.50,383.88 L261.70,438.20 L262.10,435.70 M262.00,435.20 L262.20,387.03 L262.40,438.20 L262.80,435.70 M262.70,435.20 L262.90,382.70 L263.10,438.20 L263.50,435.70 M263.40,435.20 L263.60,382.94 L263.80,438.20 L264.20,435.70 M264.10,435.20 L264.30,384.16 L264.50,438.20 L264.90,435.70 M264.80,435.20 L265.00,384.34 L265.20,438.20 L265.60,435.70 M265.50,435.20 L265.70,383.05 L265.90,438.20 L266.30,435.70 M266.20,435.20 L266.40,388.39 L266.60,438.20 L267.00,435.70 M266.90,435.20 L267.10,387.71 L267.30,438.20 L267.70,435.70 M267.60,435.20 L267.80,382.30 L268.00,438.20 L268.40,435.70 M268.30,435.20 L268.50,384.27 L268.70,438.20 L269.10,435.70 M269.00,435.20 L269.20,383.25 L269.40,438.20 L269.80,435.70 M269.70,435.20 L269.90,384.88 L270.10,438.20 L270.50,435.70 M270.40,435.20 L270.60,383.57 L270.80,438.20 L271.20,435.70 M271.10,435.20 L271.30,385.26 L271.50,438.20 L271.90,435.70 M273.60,435.20 L273.80,385.69 L274.00,438.20 L274.40,435.70 M274.30,435.20 L274.50,383.53 L274.70,438.20 L275.10,435.70 M275.00,435.20 L275.20,384.60 L275.40,438.20 L275.80,435.70 M275.70,435.20 L275.90,384.38 L276.10,438.20 L276.50,435.70" fill="none" stroke="#0c0c0c" stroke-width="0.9" stroke-linejoin="miter" stroke-miterlimit="10"/>
<path d="M190.20,532.25 L190.36,572.14 L190.52,533.38 L190.68,570.74 L190.84,535.24 L191.00,572.71 L191.16,533.70 L191.32,570.88 L191.48,536.81 L191.64,572.36 L191.80,535.97 L191.96,571.72 L192.12,535.67 L192.28,570.00 L192.44,536.65" fill="none" stroke="#0c0c0c" stroke-width="0.9" stroke-linejoin="round"/>
<path d="M192.50,535.02 L192.66,572.60 L192.82,535.71 L192.98,571.67 L193.14,539.25 L193.30,572.07 L193.46,536.56 L193.62,572.81 L193.78,538.32 L193.94,574.81 L194.10,538.48 L194.26,574.27 L194.42,540.02 L194.58,574.11 L194.74,539.90 L194.90,575.32 L195.06,539.71 L195.22,575.80" fill="none" stroke="#0c0c0c" stroke-width="0.9" stroke-linejoin="round"/>
<path d="M218.60,534.61 L218.76,561.84 L218.92,532.69 L219.08,564.77 L219.24,531.93 L219.40,562.58 L219.56,530.77 L219.72,566.00 L219.88,533.24 L220.04,565.05 L220.20,532.67 L220.36,565.87 L220.52,532.82 L220.68,566.44 L220.84,532.77 L221.00,569.31" fill="none" stroke="#0c0c0c" stroke-width="0.9" stroke-linejoin="round"/>
<path d="M221.00,517.95 L221.16,572.11 L221.32,520.50 L221.48,572.05 L221.64,522.15 L221.80,573.31 L221.96,521.90 L222.12,572.86 L222.28,524.94 L222.44,574.99 L222.60,523.23 L222.76,574.32 L222.92,525.70 L223.08,574.95 L223.24,525.02 L223.40,573.76 L223.56,529.63 L223.72,572.28 L223.88,529.30 L224.04,574.86 L224.20,531.90 L224.36,575.63 L224.52,531.90 L224.68,573.02 L224.84,531.89 L225.00,572.69 L225.16,535.34" fill="none" stroke="#0c0c0c" stroke-width="0.9" stroke-linejoin="round"/>
<path d="M49.30,575.67 L49.48,578.90 L49.66,577.50 L49.84,576.40 L50.02,577.80 L50.20,577.81 L50.38,576.40 L50.56,577.68 L50.74,577.62 L50.92,577.83 L51.10,578.97 L51.28,575.89 L51.46,573.91 L51.64,575.17 L51.82,578.46 L52.00,575.02 L52.18,576.76 L52.36,579.15 L52.54,576.65 L52.72,577.44 L52.90,575.74 L53.08,578.13 L53.26,580.33 L53.44,576.82 L53.62,578.17 L53.80,576.29 L53.98,576.96 L54.16,577.63 L54.34,576.76 L54.52,577.46 L54.70,579.97 L54.88,574.85 L55.06,577.23 L55.24,574.95 L55.42,576.11 L55.60,578.69 L55.78,577.00 L55.96,576.95 L56.14,574.56 L56.32,576.13 L56.50,576.11 L56.68,576.16 L56.86,577.05 L57.04,578.16 L57.22,575.50 L57.40,576.02 L57.58,578.29 L57.76,577.08 L57.94,578.00 L58.12,575.85 L58.30,577.76 L58.48,574.56 L58.66,580.30 L58.84,574.30 L59.02,576.97 L59.20,577.76 L59.38,579.07 L59.56,576.08 L59.74,577.46 L59.92,579.60 L60.10,576.10 L60.28,576.73 L60.46,577.46 L60.64,578.32 L60.82,577.57 L61.00,575.86 L61.18,577.12 L61.36,579.10 L61.54,574.05 L61.72,576.19 L61.90,576.84 L62.08,578.43 L62.26,581.50 L62.44,580.82 L62.62,581.59 L62.80,577.37 L62.98,578.64 L63.16,581.19 L63.34,577.23 L63.52,577.79 L63.70,575.63 L63.88,581.71 L64.06,577.42 L64.24,576.72 L64.42,578.86 L64.60,577.82 L64.78,578.23 L64.96,579.19 L65.14,578.75 L65.32,581.98 L65.50,579.52 L65.68,576.34 L65.86,580.17 L66.04,578.76 L66.22,578.79 L66.40,579.92 L66.58,581.02 L66.76,576.49 L66.94,579.43 L67.12,577.72 L67.30,578.87 L67.48,578.46 L67.66,580.53 L67.84,580.27 L68.02,579.97 L68.20,579.14 L68.38,578.25 L68.56,577.41 L68.74,576.80 L68.92,582.25 L69.10,577.86 L69.28,579.35 L69.46,577.51 L69.64,579.42 L69.82,577.13 L70.00,577.83 L70.18,578.69 L70.36,579.00 L70.54,577.39 L70.72,576.87 L70.90,576.16 L71.08,578.61 L71.26,579.75 L71.44,579.82 L71.62,579.88 L71.80,579.05 L71.98,577.65 L72.16,579.37 L72.34,578.11 L72.52,575.78 L72.70,577.14 L72.88,575.92 L73.06,580.70 L73.24,577.95 L73.42,580.10 L73.60,578.21 L73.78,577.31 L73.96,577.64 L74.14,580.64 L74.32,577.97 L74.50,578.19 L74.68,577.02 L74.86,576.33 L75.04,577.82 L75.22,574.68 L75.40,577.98 L75.58,576.50 L75.76,579.33 L75.94,575.21 L76.12,578.07 L76.30,575.86 L76.48,576.73 L76.66,577.61 L76.84,575.56 L77.02,575.14 L77.20,577.59 L77.38,577.06 L77.56,573.87 L77.74,575.02 L77.92,578.15 L78.10,575.85 L78.28,578.52 L78.46,579.64 L78.64,575.21 L78.82,575.52 L79.00,579.40 L79.18,578.07 L79.36,580.11 L79.54,578.36 L79.72,578.46 L79.90,576.54 L80.08,578.65 L80.26,575.99 L80.44,574.61 L80.62,576.22 L80.80,576.73 L80.98,574.75 L81.16,576.39 L81.34,575.35 L81.52,577.58 L81.70,578.60 L81.88,574.37 L82.06,577.27 L82.24,575.68 L82.42,576.17 L82.60,578.32 L82.78,579.15 L82.96,577.53 L83.14,576.71 L83.32,580.43 L83.50,578.01 L83.68,575.00 L83.86,577.75 L84.04,579.84 L84.22,577.70 L84.40,578.06 L84.58,578.42 L84.76,575.02 L84.94,579.95 L85.12,577.04 L85.30,574.74 L85.48,579.30 L85.66,576.96 L85.84,577.82 L86.02,573.65 L86.20,577.68 L86.38,578.54 L86.56,578.66 L86.74,573.50 L86.92,575.80 L87.10,577.17 L87.28,576.50 L87.46,574.84 L87.64,579.38 L87.82,575.22 L88.00,578.00 L88.18,577.63 L88.36,577.69 L88.54,576.16 L88.72,580.86 L88.90,575.28 L89.08,574.70 L89.26,578.31 L89.44,580.67 L89.62,579.42 L89.80,576.07 L89.98,575.67 L90.16,576.04 L90.34,577.48 L90.52,574.82 L90.70,576.69 L90.88,578.17 L91.06,577.08 L91.24,578.84 L91.42,574.45 L91.60,575.88 L91.78,575.33 L91.96,578.34 L92.14,574.26 L92.32,577.20 L92.50,578.05 L92.68,577.89 L92.86,576.52 L93.04,576.09 L93.22,577.90 L93.40,576.82 L93.58,576.61 L93.76,573.93 L93.94,573.16 L94.12,576.65 L94.30,576.59 L94.48,578.33 L94.66,579.53 L94.84,577.86 L95.02,577.98 L95.20,577.76 L95.38,580.34 L95.56,578.36 L95.74,577.69 L95.92,577.19 L96.10,578.57 L96.28,575.06 L96.46,576.09 L96.64,575.37 L96.82,575.66 L97.00,580.18 L97.18,579.15 L97.36,579.59 L97.54,577.78 L97.72,575.87 L97.90,576.15 L98.08,574.14 L98.26,572.98 L98.44,577.49 L98.62,575.65 L98.80,575.66 L98.98,579.22 L99.16,578.03 L99.34,577.85 L99.52,574.69 L99.70,577.65 L99.88,575.29 L100.06,575.15 L100.24,574.34 L100.42,576.34 L100.60,581.00 L100.78,573.98 L100.96,576.71 L101.14,576.37 L101.32,579.38 L101.50,576.63 L101.68,577.89 L101.86,576.74 L102.04,574.75 L102.22,576.63 L102.40,575.26 L102.58,577.39 L102.76,578.74 L102.94,575.31 L103.12,577.08 L103.30,574.97 L103.48,576.04 L103.66,576.09 L103.84,578.46 L104.02,579.46 L104.20,577.09 L104.38,576.20 L104.56,577.54 L104.74,579.43 L104.92,580.50 L105.10,575.12 L105.28,575.71 L105.46,579.69 L105.64,578.30 L105.82,580.98 L106.00,576.98 L106.18,575.47 L106.36,576.56 L106.54,578.69 L106.72,575.18 L106.90,578.33 L107.08,578.93 L107.26,577.88 L107.44,574.78 L107.62,578.62 L107.80,576.01 L107.98,577.06 L108.16,577.11 L108.34,580.03 L108.52,576.00 L108.70,577.79 L108.88,577.76 L109.06,577.71 L109.24,575.42 L109.42,574.72 L109.60,577.64 L109.78,580.35 L109.96,577.10 L110.14,579.66 L110.32,576.34 L110.50,578.45 L110.68,578.05 L110.86,576.81 L111.04,576.53 L111.22,576.62 L111.40,576.75 L111.58,575.73 L111.76,580.12 L111.94,577.81 L112.12,578.63 L112.30,575.09 L112.48,578.08 L112.66,576.14 L112.84,575.26 L113.02,578.89 L113.20,577.97 L113.38,574.15 L113.56,576.13 L113.74,575.52 L113.92,574.76 L114.10,574.12 L114.28,574.75 L114.46,576.57 L114.64,579.01 L114.82,581.09 L115.00,578.64 L115.18,576.12 L115.36,575.07 L115.54,575.32 L115.72,576.87 L115.90,574.07 L116.08,572.79 L116.26,578.75 L116.44,577.35 L116.62,575.33 L116.80,580.11 L116.98,575.68 L117.16,575.64 L117.34,578.93 L117.52,573.19 L117.70,579.60 L117.88,577.54 L118.06,572.66 L118.24,576.11 L118.42,574.92 L118.60,579.15 L118.78,576.82 L118.96,578.28 L119.14,578.35 L119.32,577.96 L119.50,574.53 L119.68,575.92 L119.86,576.79 L120.04,577.27 L120.22,576.81 L120.40,577.45 L120.58,573.51 L120.76,575.85 L120.94,572.79 L121.12,579.10 L121.30,575.88 L121.48,580.04 L121.66,577.39 L121.84,576.70 L122.02,578.86 L122.20,579.82 L122.38,577.04 L122.56,573.18 L122.74,576.62 L122.92,578.91 L123.10,576.89 L123.28,576.19 L123.46,574.65 L123.64,577.39 L123.82,576.48 L124.00,576.34 L124.18,576.96 L124.36,575.09 L124.54,576.52 L124.72,578.62 L124.90,573.73 L125.08,577.56 L125.26,577.16 L125.44,578.28 L125.62,578.88 L125.80,575.29 L125.98,575.74 L126.16,578.17 L126.34,579.14 L126.52,581.28 L126.70,578.04 L126.88,581.57 L127.06,582.70 L127.24,579.18 L127.42,578.99 L127.60,580.86 L127.78,582.72 L127.96,578.42 L128.14,581.24 L128.32,580.71 L128.50,579.99 L128.68,582.80 L128.86,578.95 L129.04,582.56 L129.22,579.25 L129.40,582.37 L129.58,579.75 L129.76,579.14 L129.94,579.73 L130.12,577.29 L130.30,581.12 L130.48,582.05 L130.66,580.10 L130.84,579.65 L131.02,579.76 L131.20,576.72 L131.38,580.80 L131.56,581.91 L131.74,581.55 L131.92,579.95 L132.10,580.04 L132.28,580.53 L132.46,583.22 L132.64,576.65 L132.82,578.47 L133.00,576.21 L133.18,581.26 L133.36,578.74 L133.54,581.19 L133.72,579.27 L133.90,579.28 L134.08,581.55 L134.26,580.62 L134.44,577.86 L134.62,581.64 L134.80,579.43 L134.98,579.23 L135.16,578.33 L135.34,576.03 L135.52,577.03 L135.70,577.25 L135.88,579.35 L136.06,581.44 L136.24,579.17 L136.42,579.45 L136.60,575.44 L136.78,578.46 L136.96,579.86 L137.14,577.90 L137.32,576.71 L137.50,579.94 L137.68,580.72 L137.86,577.26 L138.04,580.90 L138.22,579.10 L138.40,580.92 L138.58,578.66 L138.76,581.60 L138.94,580.62 L139.12,577.72 L139.30,581.86 L139.48,576.63 L139.66,579.12 L139.84,583.97 L140.02,583.28 L140.20,580.17 L140.38,581.17 L140.56,578.34 L140.74,583.12 L140.92,578.65 L141.10,581.02 L141.28,581.32 L141.46,580.01 L141.64,579.50 L141.82,579.97 L142.00,580.90 L142.18,581.12 L142.36,577.34 L142.54,580.55 L142.72,579.54 L142.90,580.27 L143.08,581.32 L143.26,579.46 L143.44,580.39 L143.62,579.16 L143.80,581.04 L143.98,581.50 L144.16,579.90 L144.34,582.47 L144.52,579.95 L144.70,579.59 L144.88,582.46 L145.06,581.11 L145.24,577.25 L145.42,575.42 L145.60,583.48 L145.78,583.32 L145.96,575.25 L146.14,578.09 L146.32,576.41 L146.50,579.58 L146.68,579.01 L146.86,579.48 L147.04,580.03 L147.22,581.06 L147.40,575.61 L147.58,575.34 L147.76,578.71 L147.94,580.00 L148.12,580.42 L148.30,577.92 L148.48,582.23 L148.66,576.41 L148.84,577.37 L149.02,581.80 L149.20,581.42 L149.38,580.55 L149.56,582.62 L149.74,581.72 L149.92,578.76 L150.10,580.86 L150.28,580.35 L150.46,578.19 L150.64,579.24 L150.82,580.59 L151.00,577.96 L151.18,577.96 L151.36,581.39 L151.54,579.65 L151.72,578.42 L151.90,577.28 L152.08,577.33 L152.26,580.92 L152.44,580.29 L152.62,577.69 L152.80,578.53 L152.98,577.54 L153.16,577.52 L153.34,576.48 L153.52,579.18 L153.70,578.60 L153.88,579.11 L154.06,577.60 L154.24,580.15 L154.42,581.08 L154.60,575.21 L154.78,578.13 L154.96,577.27 L155.14,578.56 L155.32,576.69 L155.50,580.62 L155.68,579.36 L155.86,579.38 L156.04,580.94 L156.22,581.47 L156.40,579.59 L156.58,581.39 L156.76,580.92 L156.94,579.68 L157.12,580.22 L157.30,578.71 L157.48,579.34 L157.66,582.75 L157.84,583.57 L158.02,580.67 L158.20,579.75 L158.38,578.35 L158.56,583.00 L158.74,577.32 L158.92,575.56 L159.10,579.41 L159.28,583.51 L159.46,580.16 L159.64,581.12 L159.82,582.06 L160.00,578.46 L160.18,577.40 L160.36,580.46 L160.54,581.22 L160.72,580.50 L160.90,583.97 L161.08,577.72 L161.26,579.23 L161.44,578.24 L161.62,580.89 L161.80,580.03 L161.98,579.62 L162.16,580.17 L162.34,579.08 L162.52,578.29 L162.70,579.09 L162.88,580.84 L163.06,580.40 L163.24,581.08 L163.42,581.17 L163.60,578.92 L163.78,579.59 L163.96,579.29 L164.14,580.85 L164.32,581.38 L164.50,582.37 L164.68,583.51 L164.86,581.64 L165.04,579.72 L165.22,578.89 L165.40,580.24 L165.58,579.44 L165.76,576.78 L165.94,582.32 L166.12,580.33 L166.30,579.79 L166.48,577.63 L166.66,581.01 L166.84,582.90 L167.02,582.63 L167.20,581.41 L167.38,578.48 L167.56,580.24 L167.74,580.10 L167.92,579.59 L168.10,581.18 L168.28,577.97 L168.46,583.38 L168.64,582.32 L168.82,576.75 L169.00,581.18 L169.18,579.25 L169.36,582.14 L169.54,577.30 L169.72,577.71 L169.90,580.51 L170.08,583.36 L170.26,578.70 L170.44,579.54 L170.62,580.06 L170.80,578.56 L170.98,581.26 L171.16,580.54 L171.34,582.36 L171.52,580.94 L171.70,576.04 L171.88,582.26 L172.06,581.09 L172.24,579.96 L172.42,577.32 L172.60,580.79 L172.78,579.44 L172.96,578.47 L173.14,578.83 L173.32,580.90 L173.50,578.91 L173.68,581.23 L173.86,580.92 L174.04,581.32 L174.22,577.68 L174.40,577.06 L174.58,581.46 L174.76,575.75 L174.94,579.53 L175.12,580.88 L175.30,575.79 L175.48,576.61 L175.66,579.82 L175.84,577.46 L176.02,581.16 L176.20,579.39 L176.38,580.71 L176.56,579.56 L176.74,580.97 L176.92,575.76 L177.10,580.49 L177.28,578.59 L177.46,581.23 L177.64,578.59 L177.82,576.93 L178.00,581.04 L178.18,580.77 L178.36,580.12 L178.54,580.35 L178.72,580.06 L178.90,578.38 L179.08,579.31 L179.26,580.74 L179.44,580.09 L179.62,582.89 L179.80,576.22 L179.98,577.15 L180.16,578.84 L180.34,580.19 L180.52,578.42 L180.70,578.98 L180.88,580.72 L181.06,579.47 L181.24,578.90 L181.42,580.90 L181.60,577.71 L181.78,576.65 L181.96,581.40 L182.14,575.43 L182.32,579.95 L182.50,579.00 L182.68,578.72 L182.86,582.31 L183.04,580.44 L183.22,579.33 L183.40,578.20 L183.58,579.72 L183.76,578.41 L183.94,580.43 L184.12,583.66 L184.30,577.58 L184.48,580.74 L184.66,579.55 L184.84,579.62 L185.02,578.77 L185.20,576.56 L185.38,579.13 L185.56,580.84 L185.74,581.25 L185.92,578.10 L186.10,578.52 L186.28,579.14 L186.46,577.61 L186.64,582.46 L186.82,579.51 L187.00,579.90 L187.18,580.30 L187.36,579.33 L187.54,579.47 L187.72,575.94 L187.90,581.81 L188.08,581.94 L188.26,581.68 L188.44,580.44 L188.62,581.75 L188.80,581.01 L188.98,577.94 L189.16,580.25 L189.34,580.73 L189.52,578.18 L189.70,576.10 L189.88,572.98 L190.06,571.79 L190.24,569.26 L190.42,571.43 L190.60,570.35 L190.78,571.42 L190.96,573.99 L191.14,573.44 L191.32,572.37 L191.50,569.87 L191.68,571.00 L191.86,568.79 L192.04,569.54 L192.22,572.64 L192.40,571.04 L192.58,571.37 L192.76,572.28 L192.94,569.80 L193.12,570.32 L193.30,575.88 L193.48,572.30 L193.66,571.10 L193.84,572.02 L194.02,573.36 L194.20,570.43 L194.38,571.40 L194.56,573.63 L194.74,571.36 L194.92,572.73 L195.10,571.23 L195.28,571.05 L195.46,576.20 L195.64,572.56 L195.82,576.25 L196.00,576.13 L196.18,580.24 L196.36,583.32 L196.54,586.59 L196.72,584.42 L196.90,581.66 L197.08,586.48 L197.26,583.25 L197.44,583.48 L197.62,582.64 L197.80,582.48 L197.98,582.74 L198.16,580.44 L198.34,583.34 L198.52,580.24 L198.70,579.96 L198.88,578.91 L199.06,582.23 L199.24,580.22 L199.42,578.40 L199.60,578.34 L199.78,579.39 L199.96,578.53 L200.14,576.16 L200.32,577.38 L200.50,575.87 L200.68,577.02 L200.86,576.55 L201.04,577.19 L201.22,573.79 L201.40,575.16 L201.58,575.97 L201.76,579.55 L201.94,574.15 L202.12,579.84 L202.30,575.42 L202.48,579.80 L202.66,579.23 L202.84,573.37 L203.02,577.49 L203.20,576.07 L203.38,576.45 L203.56,576.41 L203.74,577.32 L203.92,573.74 L204.10,576.46 L204.28,576.51 L204.46,578.82 L204.64,574.87 L204.82,573.15 L205.00,577.32 L205.18,574.99 L205.36,576.43 L205.54,579.45 L205.72,573.71 L205.90,574.31 L206.08,576.28 L206.26,572.98 L206.44,576.09 L206.62,574.63 L206.80,574.71 L206.98,577.47 L207.16,575.67 L207.34,575.39 L207.52,576.74 L207.70,573.91 L207.88,577.28 L208.06,577.24 L208.24,578.06 L208.42,574.04 L208.60,576.02 L208.78,575.88 L208.96,578.34 L209.14,578.01 L209.32,576.20 L209.50,573.72 L209.68,573.46 L209.86,575.35 L210.04,574.53 L210.22,576.86 L210.40,578.23 L210.58,574.50 L210.76,574.43 L210.94,577.88 L211.12,576.92 L211.30,575.39 L211.48,576.43 L211.66,573.05 L211.84,575.76 L212.02,576.00 L212.20,574.95 L212.38,580.46 L212.56,580.24 L212.74,574.58 L212.92,574.75 L213.10,580.24 L213.28,578.62 L213.46,580.19 L213.64,576.57 L213.82,575.22 L214.00,576.06 L214.18,578.70 L214.36,575.06 L214.54,576.40 L214.72,578.43 L214.90,574.54 L215.08,577.14 L215.26,573.74 L215.44,576.85 L215.62,575.77 L215.80,578.69 L215.98,579.27 L216.16,577.67 L216.34,577.95 L216.52,576.47 L216.70,573.54 L216.88,576.81 L217.06,576.87 L217.24,577.61 L217.42,577.37 L217.60,578.09 L217.78,577.30 L217.96,576.18 L218.14,578.45 L218.32,574.30 L218.50,573.60 L218.68,570.55 L218.86,571.70 L219.04,571.88 L219.22,572.17 L219.40,572.15 L219.58,571.75 L219.76,570.01 L219.94,571.42 L220.12,569.41 L220.30,572.27 L220.48,568.79 L220.66,572.02 L220.84,571.23 L221.02,574.68 L221.20,570.90 L221.38,570.64 L221.56,573.19 L221.74,571.90 L221.92,573.97 L222.10,572.54 L222.28,572.86 L222.46,572.69 L222.64,570.03 L222.82,571.04 L223.00,571.79 L223.18,570.45 L223.36,570.66 L223.54,568.37 L223.72,573.45 L223.90,573.06 L224.08,571.23 L224.26,573.18 L224.44,570.80 L224.62,570.65 L224.80,573.38 L224.98,574.46 L225.16,575.25 L225.34,573.16 L225.52,573.31 L225.70,572.96 L225.88,575.27 L226.06,571.91 L226.24,572.64 L226.42,576.25 L226.60,570.61 L226.78,573.10 L226.96,574.09 L227.14,570.73 L227.32,573.81 L227.50,573.02 L227.68,576.28 L227.86,572.51 L228.04,573.66 L228.22,573.37 L228.40,572.43 L228.58,572.48 L228.76,574.06 L228.94,575.65 L229.12,571.46 L229.30,571.27 L229.48,570.37 L229.66,571.24 L229.84,570.20 L230.02,572.57 L230.20,572.37 L230.38,571.16 L230.56,571.23 L230.74,576.97 L230.92,573.51 L231.10,572.66 L231.28,575.73 L231.46,570.07 L231.64,572.03 L231.82,574.80 L232.00,573.22 L232.18,573.31 L232.36,572.36 L232.54,572.54 L232.72,575.66 L232.90,576.54 L233.08,571.66 L233.26,571.93 L233.44,569.96 L233.62,571.64 L233.80,570.62 L233.98,572.69 L234.16,574.43 L234.34,571.51 L234.52,572.91 L234.70,570.64 L234.88,573.66 L235.06,573.06 L235.24,570.25 L235.42,568.76 L235.60,571.83 L235.78,567.48 L235.96,571.25 L236.14,572.51 L236.32,566.47 L236.50,571.11 L236.68,572.31 L236.86,572.59 L237.04,569.57 L237.22,572.53 L237.40,572.63 L237.58,573.06 L237.76,571.66 L237.94,574.19 L238.12,574.57 L238.30,576.72 L238.48,572.67 L238.66,572.92 L238.84,572.03 L239.02,575.65 L239.20,571.01 L239.38,572.12 L239.56,574.42 L239.74,573.00 L239.92,572.53 L240.10,572.52 L240.28,572.70 L240.46,572.55 L240.64,574.45 L240.82,573.57 L241.00,569.12 L241.18,569.79 L241.36,574.18 L241.54,575.37 L241.72,572.66 L241.90,570.85 L242.08,575.30 L242.26,573.71 L242.44,573.05 L242.62,569.62 L242.80,570.15 L242.98,569.06 L243.16,571.86 L243.34,573.62 L243.52,570.79 L243.70,568.68 L243.88,571.02 L244.06,570.90 L244.24,569.58 L244.42,572.92 L244.60,574.55 L244.78,573.00 L244.96,572.99 L245.14,569.49 L245.32,573.31 L245.50,571.59 L245.68,572.20 L245.86,569.27 L246.04,573.36 L246.22,570.97 L246.40,575.64 L246.58,571.88 L246.76,569.53 L246.94,571.70 L247.12,571.75 L247.30,571.23 L247.48,572.46 L247.66,572.31 L247.84,571.74 L248.02,572.95 L248.20,571.25 L248.38,568.11 L248.56,572.98 L248.74,571.83 L248.92,570.66 L249.10,567.62 L249.28,569.67 L249.46,568.59 L249.64,571.11 L249.82,568.62 L250.00,574.36 L250.18,571.99 L250.36,573.16 L250.54,570.81 L250.72,566.93 L250.90,576.20 L251.08,575.09 L251.26,571.41 L251.44,573.14 L251.62,575.84 L251.80,574.16 L251.98,570.03 L252.16,572.07 L252.34,575.50 L252.52,576.76 L252.70,574.83 L252.88,574.35 L253.06,576.29 L253.24,576.05 L253.42,578.74 L253.60,575.59 L253.78,575.77 L253.96,575.79 L254.14,579.44 L254.32,576.20 L254.50,578.02 L254.68,577.26 L254.86,580.02 L255.04,580.02 L255.22,578.60 L255.40,579.83 L255.58,578.02 L255.76,578.60 L255.94,581.30 L256.12,579.62 L256.30,576.13 L256.48,578.01 L256.66,577.10 L256.84,579.13 L257.02,576.74 L257.20,577.34 L257.38,580.01 L257.56,575.20 L257.74,580.19 L257.92,577.56 L258.10,579.30 L258.28,579.13 L258.46,576.30 L258.64,579.81 L258.82,577.16 L259.00,578.92 L259.18,574.51 L259.36,580.74 L259.54,578.97 L259.72,578.52 L259.90,580.28 L260.08,579.73 L260.26,581.21 L260.44,578.75 L260.62,578.91 L260.80,579.91 L260.98,579.81 L261.16,578.81 L261.34,580.40 L261.52,576.74 L261.70,580.56 L261.88,581.02 L262.06,576.37 L262.24,580.06 L262.42,579.12 L262.60,580.09 L262.78,576.51 L262.96,577.40 L263.14,575.84 L263.32,578.70 L263.50,578.74 L263.68,579.09 L263.86,582.05 L264.04,576.07 L264.22,576.59 L264.40,577.94 L264.58,581.41 L264.76,575.48 L264.94,579.02 L265.12,578.01 L265.30,579.12 L265.48,573.91 L265.66,579.71 L265.84,577.58 L266.02,578.04 L266.20,579.95 L266.38,577.92 L266.56,575.86 L266.74,577.41 L266.92,580.75 L267.10,578.79 L267.28,576.46 L267.46,582.52 L267.64,575.73 L267.82,579.27 L268.00,578.01 L268.18,579.70 L268.36,576.34 L268.54,578.48 L268.72,577.30 L268.90,578.17 L269.08,580.55 L269.26,579.63 L269.44,578.06 L269.62,575.90 L269.80,578.13 L269.98,577.65 L270.16,574.41 L270.34,579.32 L270.52,579.50 L270.70,578.05 L270.88,576.11 L271.06,577.88 L271.24,576.11 L271.42,578.34 L271.60,579.83 L271.78,575.75 L271.96,578.87 L272.14,577.68 L272.32,576.93 L272.50,581.57 L272.68,577.84 L272.86,581.14 L273.04,577.81 L273.22,576.47 L273.40,579.92 L273.58,576.74 L273.76,577.71 L273.94,580.26 L274.12,579.01 L274.30,580.55 L274.48,576.37 L274.66,577.82 L274.84,580.87 L275.02,576.93 L275.20,577.54 L275.38,577.94 L275.56,579.37 L275.74,577.94 L275.92,582.23 L276.10,577.23 L276.28,579.74 L276.46,577.33 L276.64,580.03 L276.82,577.09 L277.00,575.08 L277.18,579.81 L277.36,580.72 L277.54,578.09 L277.72,575.50 L277.90,579.91 L278.08,577.39 L278.26,578.10 L278.44,580.45" fill="none" stroke="#0c0c0c" stroke-width="1.35" stroke-linejoin="round"/>
<path d="M88.30,577.00 L88.50,506.50 L88.70,581.50 L89.10,577.50 M89.60,577.00 L89.80,512.72 L90.00,581.50 L90.40,577.50 M90.25,577.00 L90.45,515.38 L90.65,581.50 L91.05,577.50 M90.90,577.00 L91.10,511.74 L91.30,581.50 L91.70,577.50 M91.55,577.00 L91.75,511.99 L91.95,581.50 L92.35,577.50 M92.20,577.00 L92.40,514.56 L92.60,581.50 L93.00,577.50 M92.85,577.00 L93.05,512.47 L93.25,581.50 L93.65,577.50 M93.50,577.00 L93.70,512.33 L93.90,581.50 L94.30,577.50 M94.15,577.00 L94.35,511.59 L94.55,581.50 L94.95,577.50 M97.20,577.00 L97.40,507.20 L97.60,581.50 L98.00,577.50 M101.80,577.00 L102.00,507.50 L102.20,581.50 L102.60,577.50 M102.90,577.00 L103.10,507.50 L103.30,581.50 L103.70,577.50 M98.20,577.00 L98.40,509.32 L98.60,581.50 L99.00,577.50 M98.85,577.00 L99.05,508.30 L99.25,581.50 L99.65,577.50 M99.50,577.00 L99.70,510.55 L99.90,581.50 L100.30,577.50 M100.15,577.00 L100.35,508.02 L100.55,581.50 L100.95,577.50 M100.80,577.00 L101.00,509.75 L101.20,581.50 L101.60,577.50 M112.20,577.00 L112.40,512.43 L112.60,581.50 L113.00,577.50 M112.85,577.00 L113.05,510.82 L113.25,581.50 L113.65,577.50 M113.50,577.00 L113.70,509.65 L113.90,581.50 L114.30,577.50 M114.15,577.00 L114.35,508.54 L114.55,581.50 L114.95,577.50 M114.80,577.00 L115.00,512.77 L115.20,581.50 L115.60,577.50 M116.60,577.00 L116.80,507.30 L117.00,581.50 L117.40,577.50 M119.40,577.00 L119.60,507.04 L119.80,581.50 L120.20,577.50 M120.80,577.00 L121.00,508.00 L121.20,581.50 L121.60,577.50 M122.20,577.00 L122.40,507.74 L122.60,581.50 L123.00,577.50 M123.70,577.00 L123.90,508.54 L124.10,581.50 L124.50,577.50 M125.10,577.00 L125.30,508.18 L125.50,581.50 L125.90,577.50 M173.40,579.60 L173.60,508.00 L173.80,584.10 L174.20,580.10 M190.20,572.00 L190.40,509.00 L190.60,576.50 L191.00,572.50 M193.90,572.00 L194.10,515.40 L194.30,576.50 L194.70,572.50 M203.00,576.00 L203.20,507.50 L203.40,580.50 L203.80,576.50 M203.70,576.00 L203.90,508.00 L204.10,580.50 L204.50,576.50 M204.40,576.00 L204.60,508.00 L204.80,580.50 L205.20,576.50 M205.10,576.00 L205.30,512.00 L205.50,580.50 L205.90,576.50 M209.90,576.00 L210.10,507.50 L210.30,580.50 L210.70,576.50 M210.60,576.00 L210.80,509.00 L211.00,580.50 L211.40,576.50 M211.30,576.00 L211.50,508.00 L211.70,580.50 L212.10,576.50 M212.00,576.00 L212.20,510.00 L212.40,580.50 L212.80,576.50 M214.90,576.00 L215.10,507.50 L215.30,580.50 L215.70,576.50 M215.50,576.00 L215.70,509.00 L215.90,580.50 L216.30,576.50 M216.90,576.00 L217.10,508.00 L217.30,580.50 L217.70,576.50 M221.30,572.00 L221.50,515.00 L221.70,576.50 L222.10,572.50 M223.60,572.00 L223.80,516.00 L224.00,576.50 L224.40,572.50 M227.80,572.30 L228.00,512.30 L228.20,576.80 L228.60,572.80 M230.30,572.30 L230.50,512.50 L230.70,576.80 L231.10,572.80 M238.80,572.30 L239.00,514.60 L239.20,576.80 L239.60,572.80 M242.80,572.30 L243.00,515.40 L243.20,576.80 L243.60,572.80 M245.20,572.30 L245.40,520.00 L245.60,576.80 L246.00,572.80 M247.20,572.30 L247.40,517.50 L247.60,576.80 L248.00,572.80 M248.00,572.30 L248.20,518.00 L248.40,576.80 L248.80,572.80 M250.30,572.30 L250.50,515.40 L250.70,576.80 L251.10,572.80" fill="none" stroke="#0c0c0c" stroke-width="0.9" stroke-linejoin="miter" stroke-miterlimit="10"/>
<text x="86.20" y="458.30" font-size="12.8" text-anchor="start" font-weight="normal" >2 <tspan font-family="'Liberation Serif', serif" font-size="14.5">μ</tspan>M phloridzin</text>
<line x1="78.00" y1="465.00" x2="188.20" y2="465.00" stroke="#111" stroke-width="2.0" />
<line x1="50.60" y1="471.90" x2="278.00" y2="471.90" stroke="#111" stroke-width="2.0" />
<text x="93.60" y="485.60" font-size="12.85" text-anchor="start" font-weight="normal" >5 mM glucose</text>
<line x1="243.70" y1="453.00" x2="278.70" y2="453.00" stroke="#111" stroke-width="1.3" />
<text x="246.00" y="464.30" font-size="12.5" text-anchor="start" font-weight="normal" >1 min</text>
<text x="93.00" y="601.70" font-size="12.75" text-anchor="start" font-weight="normal" >200 <tspan font-family="'Liberation Serif', serif" font-size="14.5">μ</tspan>M phloridzin</text>
<line x1="122.30" y1="607.00" x2="164.80" y2="607.00" stroke="#111" stroke-width="2.0" />
<line x1="72.00" y1="614.00" x2="244.30" y2="614.00" stroke="#111" stroke-width="2.0" />
<text x="61.60" y="627.80" font-size="12.75" text-anchor="start" font-weight="normal" >100 mM methy-<tspan font-family="'Liberation Serif', serif" font-size="116%">α</tspan>-glucopyranoside</text>
<line x1="252.50" y1="594.70" x2="272.50" y2="594.70" stroke="#111" stroke-width="1.3" />
<text x="249.30" y="606.60" font-size="12.3" text-anchor="start" font-weight="normal" >1 min</text>
<text x="335.20" y="352.30" font-size="27.5" text-anchor="start" font-weight="bold" >C</text>
<line x1="374.30" y1="378.00" x2="374.30" y2="570.90" stroke="#111" stroke-width="1.2" />
<line x1="371.00" y1="570.40" x2="513.00" y2="570.40" stroke="#111" stroke-width="1.2" />
<line x1="371.70" y1="523.52" x2="374.30" y2="523.52" stroke="#111" stroke-width="1.0" />
<text x="368.60" y="527.73" font-size="12.5" text-anchor="end" font-weight="normal" >0.5</text>
<line x1="371.70" y1="476.65" x2="374.30" y2="476.65" stroke="#111" stroke-width="1.0" />
<text x="368.60" y="480.85" font-size="12.5" text-anchor="end" font-weight="normal" >1.0</text>
<line x1="371.70" y1="429.77" x2="374.30" y2="429.77" stroke="#111" stroke-width="1.0" />
<text x="368.60" y="433.77" font-size="12.5" text-anchor="end" font-weight="normal" >1.5</text>
<line x1="371.70" y1="382.90" x2="374.30" y2="382.90" stroke="#111" stroke-width="1.0" />
<text x="368.60" y="388.30" font-size="12.5" text-anchor="end" font-weight="normal" >2.0</text>
<text x="368.40" y="575.90" font-size="12.5" text-anchor="end" font-weight="normal" >0</text>
<text transform="translate(345.8,476.0) rotate(-90)" font-size="12.85" text-anchor="middle">Mean action potential frequency (Hz)</text>
<line x1="406.20" y1="385.00" x2="406.20" y2="411.30" stroke="#111" stroke-width="1.2" />
<line x1="401.80" y1="385.00" x2="410.60" y2="385.00" stroke="#111" stroke-width="1.3" />
<rect x="394.80" y="411.30" width="22.80" height="159.10" fill="#ffffff" stroke="#111" stroke-width="1.4"/>
<line x1="443.50" y1="505.00" x2="443.50" y2="518.30" stroke="#111" stroke-width="1.2" />
<line x1="439.20" y1="505.00" x2="447.80" y2="505.00" stroke="#111" stroke-width="1.3" />
<rect x="432.30" y="518.30" width="22.40" height="52.10" fill="#8e8e8e" stroke="#111" stroke-width="1.4"/>
<rect x="433.00" y="519.00" width="21.00" height="51.40" fill="#8e8e8e" filter="url(#nm)"/>
<line x1="480.20" y1="464.20" x2="480.20" y2="479.70" stroke="#111" stroke-width="1.2" />
<line x1="476.20" y1="464.20" x2="484.20" y2="464.20" stroke="#111" stroke-width="1.3" />
<rect x="468.50" y="479.70" width="23.40" height="90.70" fill="#ffffff" stroke="#111" stroke-width="1.4"/>
<text x="446.20" y="502.00" font-size="11.5" text-anchor="middle" font-weight="bold" >***</text>
<rect x="383.20" y="585.20" width="8.8" height="8.6" fill="#ffffff" stroke="#111" stroke-width="1.1"/>
<rect x="383.20" y="607.90" width="8.8" height="8.6" fill="#8e8e8e" stroke="#111" stroke-width="1.1"/>
<text x="415.00" y="594.20" font-size="12.7" text-anchor="start" font-weight="normal" >5mM glucose</text>
<text x="415.00" y="616.80" font-size="12.7" text-anchor="start" font-weight="normal" >5mM glucose</text>
<text x="415.80" y="631.00" font-size="12.7" text-anchor="start" font-weight="normal" >+ 2 <tspan font-family="'Liberation Serif', serif" font-size="14.5">μ</tspan>M phloridzin</text>
</svg>
</body></html>
